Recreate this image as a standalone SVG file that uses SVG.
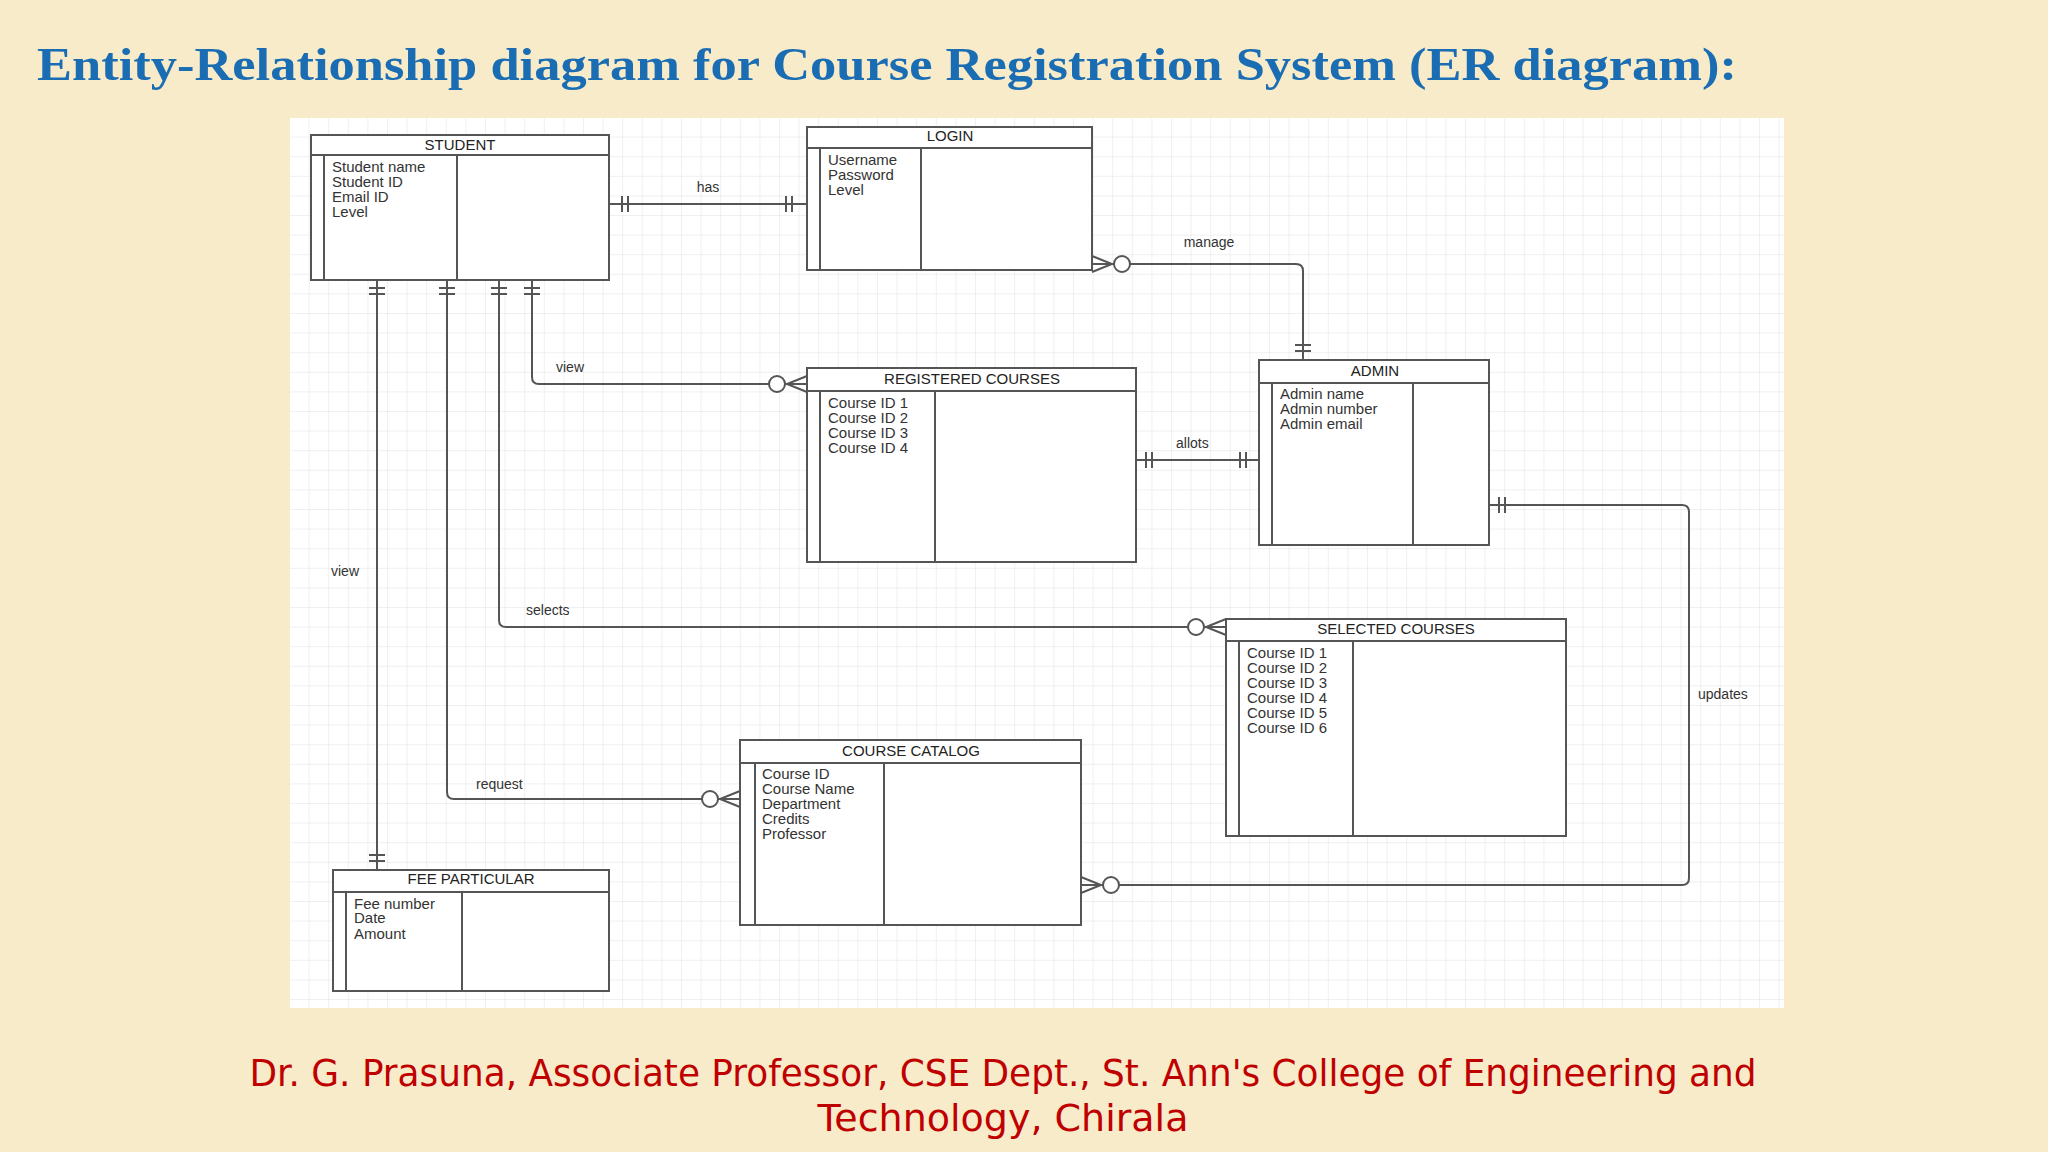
<svg xmlns="http://www.w3.org/2000/svg" width="2048" height="1152" viewBox="0 0 2048 1152">
<defs>
<pattern id="grid" width="19.6" height="19.6" patternUnits="userSpaceOnUse" x="290" y="118">
<path d="M19.6 0V19.6H0" fill="none" stroke="#e2e2e2" stroke-width="1"/>
</pattern>
<style>
.box{fill:#fff;stroke:#555;stroke-width:2}
.ln{fill:none;stroke:#555;stroke-width:2}
.hd{font-family:"Liberation Sans",Arial,sans-serif;font-size:15px;fill:#222;text-anchor:middle}
.at{font-family:"Liberation Sans",Arial,sans-serif;font-size:15px;fill:#333}
.lb{font-family:"Liberation Sans",Arial,sans-serif;font-size:14px;fill:#333}
.c{fill:#fff;stroke:#555;stroke-width:2}
</style>
</defs>
<rect width="2048" height="1152" fill="#f7ebc9"/>
<text x="37" y="80" font-family="Liberation Serif,serif" font-weight="bold" font-size="47" fill="#1b6db3" textLength="1700" lengthAdjust="spacingAndGlyphs">Entity-Relationship diagram for Course Registration System (ER diagram):</text>
<rect x="290" y="118" width="1494" height="890" fill="#fff"/>
<rect x="290" y="118" width="1494" height="890" fill="url(#grid)"/>

<g id="connectors">
<path class="ln" d="M609 204H807M622 196v16M628 196v16M786 196v16M792 196v16"/>
<text class="lb" x="708" y="192" text-anchor="middle">has</text>
<path class="ln" d="M1092 264H1296q7 0 7 7V360M1295 345h16M1295 351h16M1092 256l20 8l-20 8"/>
<circle class="c" cx="1122" cy="264" r="8"/>
<text class="lb" x="1209" y="247" text-anchor="middle">manage</text>
<path class="ln" d="M532 280V377q0 7 7 7H807M524 288h16M524 294h16M807 376l-20 8l20 8"/>
<circle class="c" cx="777" cy="384" r="8"/>
<text class="lb" x="556" y="372">view</text>
<path class="ln" d="M499 280V620q0 7 7 7H1226M491 288h16M491 294h16M1226 619l-20 8l20 8"/>
<circle class="c" cx="1196" cy="627" r="8"/>
<text class="lb" x="526" y="615">selects</text>
<path class="ln" d="M447 280V792q0 7 7 7H740M439 288h16M439 294h16M740 791l-20 8l20 8"/>
<circle class="c" cx="710" cy="799" r="8"/>
<text class="lb" x="476" y="789">request</text>
<path class="ln" d="M377 280V870M369 288h16M369 294h16M369 855h16M369 861h16"/>
<text class="lb" x="331" y="576">view</text>
<path class="ln" d="M1136 460H1259M1146 452v16M1152 452v16M1240 452v16M1246 452v16"/>
<text class="lb" x="1176" y="448">allots</text>
<path class="ln" d="M1489 505H1682q7 0 7 7V878q0 7 -7 7H1081M1499 497v16M1505 497v16M1081 877l20 8l-20 8"/>
<circle class="c" cx="1111" cy="885" r="8"/>
<text class="lb" x="1698" y="699">updates</text>
</g>

<g id="student">
<rect class="box" x="311" y="135" width="298" height="145"/>
<path class="ln" d="M311 155H609M324 155V280M457 155V280"/>
<text class="hd" x="460" y="150">STUDENT</text>
<text class="at" x="332" y="172">Student name</text>
<text class="at" x="332" y="187">Student ID</text>
<text class="at" x="332" y="202">Email ID</text>
<text class="at" x="332" y="217">Level</text>
</g>
<g id="login">
<rect class="box" x="807" y="127" width="285" height="143"/>
<path class="ln" d="M807 148H1092M820 148V270M921 148V270"/>
<text class="hd" x="950" y="141">LOGIN</text>
<text class="at" x="828" y="165">Username</text>
<text class="at" x="828" y="180">Password</text>
<text class="at" x="828" y="195">Level</text>
</g>
<g id="registered-courses">
<rect class="box" x="807" y="368" width="329" height="194"/>
<path class="ln" d="M807 391H1136M820 391V562M935 391V562"/>
<text class="hd" x="972" y="384">REGISTERED COURSES</text>
<text class="at" x="828" y="408">Course ID 1</text>
<text class="at" x="828" y="423">Course ID 2</text>
<text class="at" x="828" y="438">Course ID 3</text>
<text class="at" x="828" y="453">Course ID 4</text>
</g>
<g id="admin">
<rect class="box" x="1259" y="360" width="230" height="185"/>
<path class="ln" d="M1259 383H1489M1272 383V545M1413 383V545"/>
<text class="hd" x="1375" y="376">ADMIN</text>
<text class="at" x="1280" y="399">Admin name</text>
<text class="at" x="1280" y="414">Admin number</text>
<text class="at" x="1280" y="429">Admin email</text>
</g>
<g id="selected-courses">
<rect class="box" x="1226" y="619" width="340" height="217"/>
<path class="ln" d="M1226 641H1566M1239 641V836M1353 641V836"/>
<text class="hd" x="1396" y="634">SELECTED COURSES</text>
<text class="at" x="1247" y="658">Course ID 1</text>
<text class="at" x="1247" y="673">Course ID 2</text>
<text class="at" x="1247" y="688">Course ID 3</text>
<text class="at" x="1247" y="703">Course ID 4</text>
<text class="at" x="1247" y="718">Course ID 5</text>
<text class="at" x="1247" y="733">Course ID 6</text>
</g>
<g id="course-catalog">
<rect class="box" x="740" y="740" width="341" height="185"/>
<path class="ln" d="M740 763H1081M755 763V925M884 763V925"/>
<text class="hd" x="911" y="756">COURSE CATALOG</text>
<text class="at" x="762" y="779">Course ID</text>
<text class="at" x="762" y="794">Course Name</text>
<text class="at" x="762" y="809">Department</text>
<text class="at" x="762" y="824">Credits</text>
<text class="at" x="762" y="839">Professor</text>
</g>
<g id="fee-particular">
<rect class="box" x="333" y="870" width="276" height="121"/>
<path class="ln" d="M333 892H609M346 892V991M462 892V991"/>
<text class="hd" x="471" y="884">FEE PARTICULAR</text>
<text class="at" x="354" y="909">Fee number</text>
<text class="at" x="354" y="923">Date</text>
<text class="at" x="354" y="939">Amount</text>
</g>
<g font-family="DejaVu Sans,sans-serif" font-size="38" fill="#c00000" text-anchor="middle">
<text x="1003" y="1086" textLength="1507" lengthAdjust="spacingAndGlyphs">Dr. G. Prasuna, Associate Professor, CSE Dept., St. Ann's College of Engineering and</text>
<text x="1003" y="1131">Technology, Chirala</text>
</g>
</svg>
